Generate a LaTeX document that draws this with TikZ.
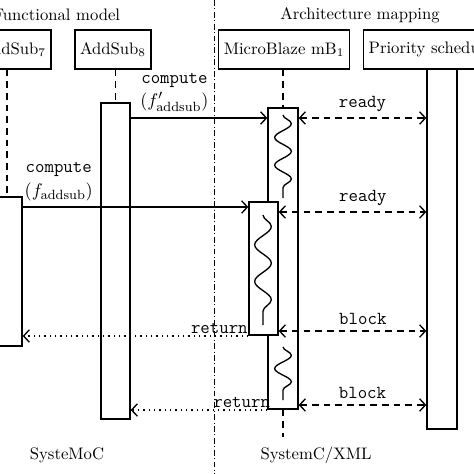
\documentclass[tikz,border=0pt]{standalone}
\usetikzlibrary{arrows.meta,decorations.pathmorphing,fit}

\tikzset{
  barb/.tip={Straight Barb[length=3.5pt,width=7.5pt]},
  box/.style={draw, line width=0.8pt, minimum height=23.4pt, inner xsep=3pt},
  act/.style={draw, line width=0.8pt, inner sep=0pt},
  life/.style={line width=0.8pt, dash pattern=on 4pt off 3pt},
  sepline/.style={line width=0.6pt, dash pattern=on 3.5pt off 1.5pt on 0.6pt off 1.5pt},
  call/.style={line width=0.8pt, -{barb}},
  sig/.style={line width=0.8pt, dash pattern=on 4pt off 3pt, {barb}-{barb}},
  ret/.style={line width=0.8pt, dash pattern=on 0.8pt off 2.4pt, -{barb}},
  busy/.style={line width=0.8pt, decorate, decoration={snake, amplitude=5pt, segment length=#1}},
  msg/.style={font=\fontsize{11pt}{14pt}\selectfont\ttfamily, align=center},
}

\begin{document}
\begin{tikzpicture}[x=0.6pt, y=-0.6pt]
  \useasboundingbox (0,0) rectangle (474,474);
  \clip (0,0) rectangle (474,474);

  % split between the two halves
  \draw[sepline] (214,0) -- (214,474);
  \node[anchor=east] (fm) at (126,15) {Functional model};
  \node (am) at (360,15) {Architecture mapping};

  % actors
  \node[box, minimum width=43.2pt] (as7) at (13,49.5) {AddSub$_7$};
  \node[box, minimum width=43.2pt] (as8) at (113,49.5) {AddSub$_8$};
  \node[box, minimum width=76.8pt] (mb1) at (284,49.5) {MicroBlaze mB$_1$};
  \node[box, anchor=west] (ps) at (363,49.5) {Priority scheduler};

  % activations
  \node[act, fit={(-8,197) (22,346)}] (a7) {};
  \node[act, fit={(101,103) (130,419)}] (a8) {};
  \node[act, fit={(427,69) (457,429)}] (sch) {};
  \node[act, fit={(268,108) (298,409)}] (mba) {};
  \node[act, fill=white, fit={(249,202) (278,335)}] (mbb) {};

  % lifelines
  \draw[life] (as7.south -| a7) -- (a7.north);
  \draw[life] (as8.south -| a8) -- (a8.north);
  \draw[life] (mb1.south -| mba) -- (mba.north);
  \coordinate (mbend) at (283,437);
  \draw[life] (mba.south) -- (mbend);

  % busy
  \draw[busy=16.6pt] (283,115) -- (283,198);
  \draw[busy=22pt] (263,215) -- (263,325);
  \draw[busy=15.9pt] (283,347) -- (283,400);

  % messages
  \coordinate (m1) at (0,118);
  \coordinate (m2) at (0,207);
  \coordinate (m3) at (0,212);
  \coordinate (m4) at (0,331);
  \coordinate (m5) at (0,336);
  \coordinate (m6) at (0,405);
  \coordinate (m7) at (0,410);

  \draw[call] (a8.east |- m1) -- node[msg, pos=0.32, above] {compute\\\rmfamily$(f'_{\mathrm{addsub}})$} (mba.west |- m1);
  \draw[sig] (mba.east |- m1) -- node[msg, above] {ready} (sch.west |- m1);
  \draw[call] (a7.east |- m2) -- node[msg, pos=0.16, above] {compute\\\rmfamily$(f_{\mathrm{addsub}})$} (mbb.west |- m2);
  \draw[sig] (mbb.east |- m3) -- node[msg, pos=0.57, above] {ready} (sch.west |- m3);
  \draw[sig] (mbb.east |- m4) -- node[msg, pos=0.57, above] {block} (sch.west |- m4);
  \draw[ret] (mbb.west |- m5) -- node[msg, pos=0, anchor=south east, inner sep=1pt, xshift=1pt] {return} (a7.east |- m5);
  \draw[sig] (mba.east |- m6) -- node[msg, above] {block} (sch.west |- m6);
  \draw[ret] (mba.west |- m7) -- node[msg, pos=0, anchor=south east, inner sep=1pt, xshift=3pt] {return} (a8.east |- m7);

  \node (smoc) at (67,455) {SysteMoC};
  \node (scx) at (316,455) {SystemC/XML};
\end{tikzpicture}
\end{document}
